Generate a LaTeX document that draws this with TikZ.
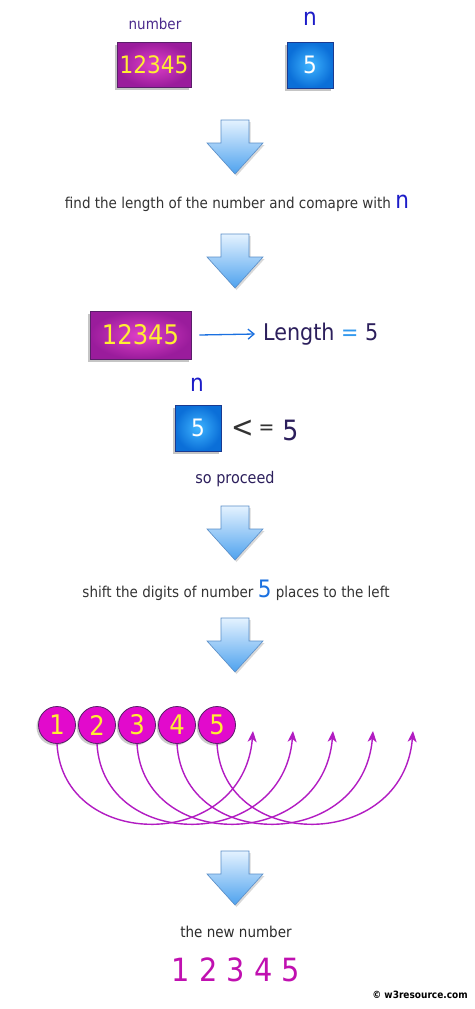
\documentclass[tikz,border=0pt]{standalone}
\usepackage{fontspec}
\setmainfont{DejaVu Sans Condensed}
\usetikzlibrary{shadows,arrows.meta}
\definecolor{lblpurple}{HTML}{4B2A8C}
\definecolor{nblue}{HTML}{1C1CC8}
\definecolor{navy}{HTML}{2C1F5C}
\definecolor{txtgray}{HTML}{333333}
\definecolor{magdark}{HTML}{9A1C9C}
\definecolor{maglight}{HTML}{E040C8}
\definecolor{magedge}{HTML}{5A1E6A}
\definecolor{bluedark}{HTML}{0B6FD8}
\definecolor{bluelight}{HTML}{3EB4FF}
\definecolor{blueedge}{HTML}{1A3A90}
\definecolor{digyellow}{HTML}{FFEE33}
\definecolor{arctop}{HTML}{E4F2FF}
\definecolor{arcbot}{HTML}{4EA2EE}
\definecolor{arredge}{HTML}{5A8EC8}
\definecolor{circfill}{HTML}{E20ACC}
\definecolor{arcmag}{HTML}{B21CC2}
\definecolor{linkblue}{HTML}{1A70E0}
\definecolor{eqblue}{HTML}{3399EE}
\definecolor{newmag}{HTML}{C010B0}
\tikzset{
  mbox/.style={draw=magedge, line width=0.8pt, inner color=maglight, outer color=magdark,
    drop shadow={shadow xshift=-2pt, shadow yshift=-3pt, opacity=0.45},
    text=digyellow, inner sep=0pt},
  bbox/.style={draw=blueedge, line width=0.8pt, inner color=bluelight, outer color=bluedark,
    drop shadow={shadow xshift=-2pt, shadow yshift=-3pt, opacity=0.45},
    minimum width=46pt, minimum height=46pt, inner sep=0pt,
    text=white, font=\fontsize{24}{26}\selectfont},
  digit/.style={circle, draw=magedge, line width=0.8pt, fill=circfill,
    minimum size=37pt, inner sep=0pt, text=digyellow,
    font=\fontsize{27}{29}\selectfont,
    drop shadow={shadow xshift=-2pt, shadow yshift=-2pt, opacity=0.4}},
  body/.style={text=txtgray, font=\fontsize{15}{17}\selectfont, inner sep=0pt},
  shiftarc/.style={draw=arcmag, line width=1.4pt, -{Stealth[length=11pt,width=9pt,inset=3pt]}},
  flowarrow/.style={draw=arredge, line width=0.6pt, top color=arctop, bottom color=arcbot,
    drop shadow={shadow xshift=1.5pt, shadow yshift=-2pt, opacity=0.3}}
}
\newcommand\mydownarrow[1]{%
  \path[flowarrow] (221,#1) -- (249,#1) -- (249,#1+23) -- (263,#1+23) -- (235,#1+54)
    -- (207,#1+23) -- (221,#1+23) -- cycle;}
\begin{document}
\begin{tikzpicture}[x=1pt,y=-1pt]
\useasboundingbox[fill=white] (0,0) rectangle (474,1009);

% top row
\node[text=lblpurple, font=\fontsize{15}{17}\selectfont] (numlbl) at (155,24) {number};
\node[text=nblue, font=\fontsize{24}{26}\selectfont] (nlbl) at (310,19) {n};
\node[mbox, minimum width=74pt, minimum height=45pt, font=\fontsize{24}{26}\selectfont] (num1) at (154,64.5) {12345};
\node[bbox] (n1) at (310,65) {5};

\mydownarrow{120}
\node[body] (t1) at (237,203) {find the length of the number and comapre with \textcolor{nblue}{\fontsize{24}{26}\selectfont n}};
\mydownarrow{234}

% length
\node[mbox, minimum width=101pt, minimum height=48pt, font=\fontsize{27}{29}\selectfont] (num2) at (140.5,335) {12345};
\node[anchor=west, text=navy, font=\fontsize{23}{25}\selectfont, inner sep=0pt] (len) at (263,334) {Length \textcolor{eqblue}{=} 5};
\draw[linkblue, line width=1.3pt, -{Straight Barb[length=6pt,width=10pt]}] (num2.east) ++(8pt,0) coordinate (la) -- (len.west -| 255,0) coordinate (lb);

\node[text=nblue, font=\fontsize{24}{26}\selectfont] (nlbl2) at (197,385) {n};
\node[bbox] (n2) at (198,428) {5};
\node[text=txtgray, inner sep=0pt, font=\fontsize{30}{32}\selectfont] (lt) at (243,429) {<};
\node[text=txtgray, inner sep=0pt, font=\fontsize{21}{23}\selectfont] (eq) at (266.5,430) {=};
\node[text=navy, inner sep=0pt, font=\fontsize{28}{30}\selectfont] (five) at (290.5,430) {5};
\node[text=navy, font=\fontsize{16}{18}\selectfont] (proc) at (235,479) {so proceed};

\mydownarrow{506}
\node[body] (t2) at (236,590) {shift the digits of number \textcolor{linkblue}{\fontsize{24}{26}\selectfont 5} places to the left};
\mydownarrow{618}

% digits
\foreach \i/\x in {1/57,2/97,3/137,4/177,5/217}{
  \node[digit] (c\i) at (\x,725) {\i};
}
\foreach \i/\x in {1/57,2/97,3/137,4/177,5/217}{
  \coordinate (e\i) at (\x+196,731);
}
\foreach \i/\x in {5/217,4/177,3/137,2/97,1/57}{
  \draw[shiftarc] (c\i.south) .. controls (\x+6,852) and (\x+186,852) .. (e\i);
}

\mydownarrow{851}
\node[text=txtgray!85!black, font=\fontsize{15}{17}\selectfont] (newlbl) at (236,932) {the new number};
\node[text=newmag, font=\fontsize{32}{34}\selectfont] (newnum) at (236,970) {1 2 3 4 5};
\node[text=black, font=\bfseries\fontsize{10}{12}\selectfont] (copy) at (420,995) {\textcopyright\ w3resource.com};
\end{tikzpicture}
\end{document}
